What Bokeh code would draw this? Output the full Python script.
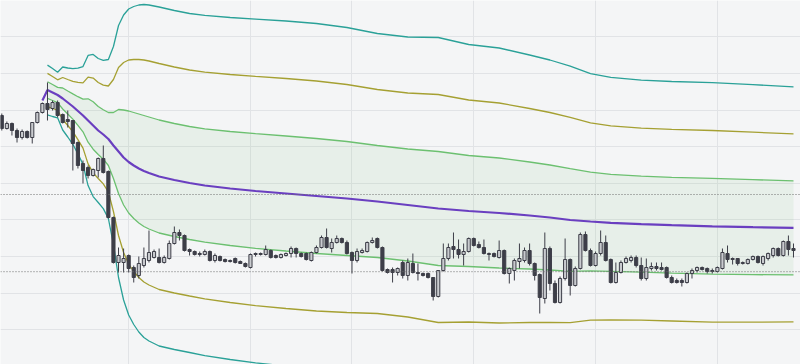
from bokeh.plotting import figure
from bokeh.models import ColumnDataSource, Range1d, FixedTicker, Span
from bokeh.embed import file_html
from bokeh.resources import INLINE

# ---- candles (price units) ----
open_ = [38.5, 37.2, 37.7, 37.0, 36.3, 36.9, 36.3, 37.8, 38.8, 39.7,
         39.2, 39.8, 38.6, 38.1, 38.0, 35.8, 33.7, 33.3, 32.5, 33.0,
         34.2, 32.9, 28.3, 23.8, 23.8, 24.5, 23.3, 22.5, 23.5, 24.0,
         24.3, 24.3, 23.8, 24.2, 25.7, 26.8, 26.5, 25.1, 24.9, 24.7,
         24.6, 24.9, 24.0, 24.4, 24.1, 24.0, 24.2, 23.9, 23.7, 23.3,
         24.7, 24.6, 24.6, 25.0, 24.5, 24.3, 24.5, 24.7, 25.2, 24.7,
         24.7, 24.0, 24.8, 25.3, 26.3, 25.2, 25.8, 26.2, 25.8, 24.8,
         24.0, 24.8, 24.9, 25.8, 26.2, 25.3, 23.1, 23.1, 22.8, 23.8,
         22.5, 23.7, 22.8, 22.7, 22.7, 22.3, 20.4, 23.0, 24.2, 25.4,
         25.1, 24.6, 24.9, 26.2, 25.6, 25.3, 24.6, 24.7, 24.3, 25.0,
         22.7, 23.0, 23.9, 24.0, 25.0, 23.7, 22.6, 20.2, 25.2, 21.7,
         19.8, 22.2, 24.1, 21.5, 23.2, 26.6, 25.0, 23.5, 24.7, 25.8,
         24.1, 21.8, 22.8, 23.8, 24.0, 24.3, 23.5, 22.2, 23.2, 23.4,
         23.3, 23.3, 22.3, 22.0, 22.0, 21.8, 22.7, 23.0, 23.3, 23.2,
         23.0, 22.9, 23.2, 24.7, 24.2, 24.2, 23.7, 23.7, 24.1, 24.4,
         23.7, 24.2, 24.5, 25.2, 24.5, 25.9, 25.2]
high = [38.7, 37.9, 37.8, 37.2, 37.1, 37.0, 37.8, 38.9, 39.8, 41.8,
        40.0, 40.0, 38.7, 39.0, 38.0, 35.9, 34.0, 33.5, 33.2, 34.3,
        35.5, 33.0, 28.4, 25.3, 25.2, 24.6, 23.5, 24.4, 25.3, 27.0,
        25.1, 25.2, 24.5, 26.0, 27.4, 27.1, 26.6, 25.2, 25.0, 24.9,
        25.1, 25.0, 24.7, 24.5, 24.2, 24.1, 24.3, 24.0, 23.8, 24.7,
        24.8, 24.8, 25.5, 25.1, 24.6, 24.7, 24.8, 25.4, 25.3, 24.8,
        24.8, 24.9, 25.5, 26.5, 27.2, 26.2, 26.5, 26.3, 26.0, 24.9,
        25.2, 25.2, 25.9, 26.3, 26.3, 25.4, 23.2, 23.3, 23.3, 24.0,
        24.2, 24.7, 23.7, 22.8, 22.8, 22.3, 23.0, 25.7, 25.7, 26.8,
        26.1, 25.7, 26.3, 26.3, 25.9, 26.1, 24.8, 24.8, 26.0, 25.1,
        23.3, 24.2, 25.7, 25.3, 25.7, 23.8, 22.7, 26.8, 25.4, 22.0,
        22.4, 26.2, 24.2, 23.4, 26.8, 26.9, 25.2, 24.9, 27.0, 26.5,
        24.2, 23.8, 24.0, 24.4, 24.5, 24.5, 24.3, 24.2, 23.8, 23.8,
        23.8, 23.4, 22.5, 22.2, 22.2, 22.8, 23.2, 23.4, 23.4, 23.3,
        23.2, 23.4, 25.2, 25.5, 24.3, 24.2, 23.9, 24.2, 24.5, 24.5,
        24.5, 24.8, 25.3, 25.3, 26.0, 26.5, 25.7]
low = [37.0, 37.1, 36.5, 35.8, 36.1, 36.2, 35.7, 37.7, 38.7, 38.0,
       39.0, 38.3, 37.7, 37.3, 33.0, 33.2, 31.7, 32.2, 32.4, 32.3,
       32.7, 28.2, 23.7, 22.8, 22.8, 22.8, 21.8, 22.2, 23.3, 23.8,
       24.2, 23.7, 23.7, 24.1, 25.6, 26.0, 24.9, 24.5, 24.5, 24.4,
       24.5, 23.9, 23.8, 23.9, 23.8, 23.8, 23.7, 23.7, 23.3, 23.2,
       24.4, 24.5, 24.5, 24.2, 24.2, 24.2, 24.4, 24.3, 24.3, 24.3,
       24.0, 23.9, 24.7, 25.2, 25.2, 24.8, 25.7, 25.7, 24.6, 22.7,
       23.8, 24.7, 24.8, 25.7, 25.2, 22.9, 22.7, 21.8, 22.5, 22.2,
       22.0, 22.7, 22.0, 22.4, 22.2, 20.0, 20.3, 22.9, 24.0, 24.2,
       24.2, 23.5, 24.8, 25.4, 25.2, 24.6, 24.0, 24.3, 24.2, 22.6,
       21.7, 22.0, 23.2, 23.8, 23.5, 22.0, 18.7, 19.7, 21.0, 19.7,
       19.7, 22.0, 20.5, 21.4, 23.1, 24.9, 23.4, 23.4, 24.5, 23.9,
       21.7, 21.7, 22.7, 23.7, 23.8, 23.3, 22.0, 22.0, 23.0, 23.0,
       23.0, 22.2, 21.7, 21.7, 21.4, 21.7, 22.2, 22.8, 23.0, 22.7,
       22.7, 22.8, 23.1, 23.8, 23.6, 23.5, 23.6, 23.6, 24.0, 23.7,
       23.5, 24.0, 24.3, 24.4, 24.4, 24.5, 24.3]
close = [37.2, 37.7, 37.0, 36.3, 36.9, 36.3, 37.8, 38.8, 39.7, 39.1,
         39.8, 38.5, 37.8, 37.9, 35.7, 33.5, 33.0, 32.5, 33.1, 34.2,
         32.8, 28.3, 23.8, 24.5, 24.2, 23.2, 22.3, 23.7, 24.2, 24.8,
         24.9, 23.8, 24.3, 25.7, 26.8, 26.5, 25.0, 24.9, 24.6, 24.6,
         24.9, 24.0, 24.5, 24.0, 23.9, 23.9, 23.8, 23.7, 23.4, 24.6,
         24.6, 24.7, 25.1, 24.3, 24.3, 24.6, 24.7, 25.2, 24.7, 24.4,
         24.1, 24.8, 25.3, 26.3, 25.3, 25.8, 26.2, 25.8, 24.7, 24.0,
         24.9, 25.0, 25.8, 26.0, 25.3, 23.0, 22.8, 22.8, 23.2, 22.5,
         23.8, 22.8, 22.7, 22.5, 22.3, 20.4, 23.0, 24.2, 25.3, 25.1,
         24.6, 24.9, 26.2, 25.5, 25.3, 24.7, 24.7, 24.4, 25.0, 22.7,
         23.2, 24.0, 24.2, 25.0, 23.7, 22.5, 20.3, 25.2, 21.7, 19.8,
         22.2, 24.1, 21.5, 23.2, 26.6, 25.0, 23.5, 24.7, 25.8, 24.0,
         21.8, 22.8, 23.8, 24.2, 24.3, 23.5, 22.2, 23.3, 23.4, 23.2,
         23.1, 22.3, 21.8, 21.8, 21.8, 22.7, 23.0, 23.3, 23.1, 22.9,
         22.9, 23.3, 24.8, 24.1, 24.1, 23.7, 23.8, 24.1, 24.4, 23.8,
         24.4, 24.7, 25.2, 24.5, 25.9, 25.1, 25.0]

# ---- anchored VWAP and deviation bands (sampled at candle indices) ----
vwap_idx = [8, 9, 10, 11, 12, 13, 14, 15, 16, 17, 18, 19, 20, 21, 22, 23, 24, 25,
            26, 27, 28, 29, 31, 34, 37, 40, 45, 50, 56, 62, 68, 74, 80, 86, 92,
            98, 104, 108, 112, 116, 120, 126, 132, 140, 148, 156]
vwap = [40.00, 41.05, 40.80, 40.55, 40.20, 39.80, 39.40, 38.95, 38.50, 38.00,
        37.50, 37.00, 36.60, 36.15, 35.50, 34.90, 34.30, 33.85, 33.50, 33.20,
        32.95, 32.75, 32.40, 32.05, 31.75, 31.50, 31.20, 30.95, 30.70, 30.45,
        30.20, 29.90, 29.55, 29.20, 28.95, 28.75, 28.50, 28.30, 28.05, 27.90,
        27.77, 27.63, 27.53, 27.42, 27.33, 27.27]
band_idx = [9, 10, 11, 12, 13, 14, 15, 16, 17, 18, 19, 20, 21, 22, 23, 24, 25,
            26, 27, 28, 29, 31, 34, 37, 40, 45, 50, 56, 62, 68, 74, 80, 86, 92,
            98, 104, 108, 112, 116, 120, 126, 132, 140, 148, 156]
upper1 = [41.88, 41.60, 41.31, 41.25, 40.95, 40.66, 40.38, 40.13, 40.17, 39.87,
          39.40, 39.07, 38.80, 38.80, 39.10, 39.05, 38.95, 38.80, 38.65, 38.50,
          38.35, 38.05, 37.70, 37.40, 37.17, 36.90, 36.68, 36.45, 36.20, 35.90,
          35.50, 35.15, 34.90, 34.50, 34.25, 33.85, 33.55, 33.18, 32.83, 32.62,
          32.43, 32.32, 32.21, 32.08, 31.97]
upper2 = [42.71, 42.40, 42.07, 42.30, 42.10, 41.92, 41.81, 41.76, 42.34, 42.24,
          41.80, 41.54, 41.45, 42.10, 43.30, 43.80, 44.05, 44.10, 44.10, 44.05,
          43.95, 43.70, 43.35, 43.05, 42.84, 42.60, 42.41, 42.20, 41.95, 41.60,
          41.10, 40.75, 40.60, 40.05, 39.75, 39.20, 38.80, 38.31, 37.76, 37.47,
          37.23, 37.11, 37.00, 36.83, 36.67]
upper3 = [43.54, 43.20, 42.83, 43.35, 43.25, 43.18, 43.24, 43.39, 44.51, 44.61,
          44.20, 44.01, 44.10, 45.40, 47.50, 48.55, 49.15, 49.40, 49.55, 49.60,
          49.55, 49.35, 49.00, 48.70, 48.51, 48.30, 48.14, 47.95, 47.70, 47.30,
          46.70, 46.35, 46.30, 45.60, 45.25, 44.55, 44.05, 43.44, 42.69, 42.32,
          42.03, 41.90, 41.79, 41.58, 41.37]
lower1 = [40.22, 40.00, 39.79, 39.15, 38.65, 38.14, 37.52, 36.87, 35.83, 35.13,
          34.60, 34.13, 33.50, 32.20, 30.70, 29.55, 28.75, 28.20, 27.75, 27.40,
          27.15, 26.75, 26.40, 26.10, 25.83, 25.50, 25.22, 24.95, 24.70, 24.50,
          24.30, 23.95, 23.50, 23.40, 23.25, 23.15, 23.05, 22.92, 22.97, 22.92,
          22.83, 22.74, 22.63, 22.58, 22.57]
lower2 = [39.39, 39.20, 39.03, 38.10, 37.50, 36.88, 36.09, 35.24, 33.66, 32.76,
          32.20, 31.66, 30.85, 28.90, 26.50, 24.80, 23.65, 22.90, 22.30, 21.85,
          21.55, 21.10, 20.75, 20.45, 20.16, 19.80, 19.49, 19.20, 18.95, 18.80,
          18.70, 18.35, 17.80, 17.85, 17.75, 17.80, 17.80, 17.79, 18.04, 18.07,
          18.03, 17.95, 17.84, 17.83, 17.87]
lower3 = [38.56, 38.40, 38.27, 37.05, 36.35, 35.62, 34.66, 33.61, 31.49, 30.39,
          29.80, 29.19, 28.20, 25.60, 22.30, 20.05, 18.55, 17.60, 16.85, 16.30,
          15.95, 15.45, 15.10, 14.80, 14.49, 14.10, 13.76, 13.45, 13.20, 13.10,
          13.10, 12.75, 12.10, 12.30, 12.25, 12.45, 12.55, 12.66, 13.11, 13.22,
          13.23, 13.16, 13.05, 13.08, 13.17]

# ---- reference levels and grid ----
price_levels = [30.60, 22.88]
grid_x = [25, 49, 69, 93, 117, 141]
grid_y = [46.37, 42.71, 39.05, 35.39, 31.73, 28.07, 24.41, 20.75, 17.09]

BG = "#f4f5f6"
DARK = "#3d3e48"
LIGHT = "#c9cbcf"

idx = list(range(len(open_)))
is_up = [c >= o for o, c in zip(open_, close)]
src = ColumnDataSource(dict(
    x=idx, high=high, low=low,
    top=[max(o, c) for o, c in zip(open_, close)],
    bottom=[min(o, c) for o, c in zip(open_, close)],
    fill=[LIGHT if u else DARK for u in is_up],
))

p = figure(width=800, height=364, output_backend="svg", toolbar_location=None,
           x_axis_location=None, y_axis_location=None,
           x_range=Range1d(-0.256, 157.38), y_range=Range1d(13.6, 50.0),
           min_border=0)
p.outline_line_color = None
p.background_fill_color = BG
p.border_fill_color = BG
p.xgrid.ticker = FixedTicker(ticks=grid_x)
p.ygrid.ticker = FixedTicker(ticks=grid_y)
p.grid.grid_line_color = "#e1e3e6"
p.grid.grid_line_width = 1

for lvl in price_levels:
    p.add_layout(Span(location=lvl, dimension="width", line_color="#6e6e6e",
                      line_dash="1 2", line_width=1))

p.varea(x=band_idx, y1=lower1, y2=upper1, fill_color="#4caf50", fill_alpha=0.075)

TEAL = "#2aa198"
OLIVE = "#a5a032"
GREEN = "#6cc070"
for ys, col in [(upper3, TEAL), (lower3, TEAL), (upper2, OLIVE), (lower2, OLIVE),
                (upper1, GREEN), (lower1, GREEN)]:
    p.line(band_idx, ys, line_color=col, line_width=1.3)
p.line(vwap_idx, vwap, line_color="#6a3fc0", line_width=2.2)

p.segment(x0="x", y0="high", x1="x", y1="low", source=src, line_color=DARK, line_width=1)
p.vbar(x="x", width=0.62, top="top", bottom="bottom", source=src,
       fill_color="fill", line_color=DARK, line_width=1)

open("out.html", "w").write(file_html(p, INLINE))
